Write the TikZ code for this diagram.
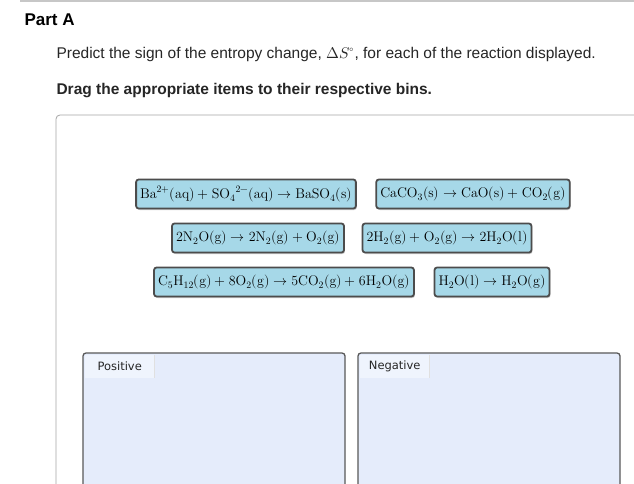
\documentclass[tikz,border=0pt]{standalone}
\usepackage{fontspec}
\setmainfont{Liberation Sans}
\usepackage{unicode-math}
\setmathfont{Latin Modern Math}
\setmathrm{Latin Modern Roman}
\newfontfamily\tabfont{DejaVu Sans}
\usetikzlibrary{shadows}
\begin{document}
\begin{tikzpicture}[x=1pt,y=-1pt,
  chip/.style={draw=black!70,line width=1.8pt,fill=chipblue,rounded corners=2.5pt,inner sep=4pt,minimum height=29pt,font=\fontsize{14}{16}\selectfont,drop shadow={shadow xshift=1pt,shadow yshift=-1.5pt,opacity=.4}},
  bin/.style={draw=black!65,line width=1.3pt,fill=binblue,rounded corners=3pt},
  tab/.style={fill=white!40!binblue,anchor=north west,minimum width=70pt,minimum height=23pt,inner sep=0pt,font=\tabfont\fontsize{11.5}{13}\selectfont,text=black!85}]
\definecolor{chipblue}{HTML}{A6D8E8}
\definecolor{binblue}{HTML}{E5ECFB}
\useasboundingbox (0,0) rectangle (634,484);
\fill[white] (0,0) rectangle (634,484);
\draw[black!22,line width=3pt] (20,1) -- (634,1);
\node[anchor=west,font=\bfseries\fontsize{17}{19}\selectfont] (part) at (21,20) {Part A};
\node[anchor=west,font=\fontsize{15.5}{17}\selectfont,text=black!85] (q) at (53,54) {Predict the sign of the entropy change, $\Delta S^{\circ}$, for each of the reaction displayed.};
\node[anchor=west,font=\bfseries\fontsize{15.5}{17}\selectfont,text=black!85] (d) at (53,91) {Drag the appropriate items to their respective bins.};
\draw[black!35,line width=0.8pt,rounded corners=4pt] (640,115) -- (56,115) -- (56,490);
\node[chip] (r1) at (246,194) {$\mathrm{Ba^{2+}(aq)+SO_4{}^{2-}(aq)\rightarrow BaSO_4(s)}$};
\node[chip] (r2) at (473,194) {$\mathrm{CaCO_3(s)\rightarrow CaO(s)+CO_2(g)}$};
\node[chip] (r3) at (258,238) {$\mathrm{2N_2O(g)\rightarrow 2N_2(g)+O_2(g)}$};
\node[chip] (r4) at (447,238) {$\mathrm{2H_2(g)+O_2(g)\rightarrow 2H_2O(l)}$};
\node[chip] (r5) at (284,282) {$\mathrm{C_5H_{12}(g)+8O_2(g)\rightarrow 5CO_2(g)+6H_2O(g)}$};
\node[chip] (r6) at (492,282) {$\mathrm{H_2O(l)\rightarrow H_2O(g)}$};
\path[bin] (83,490) -- (83,353) -- (345,353) -- (345,490);
\path[bin] (358,490) -- (358,353) -- (620,353) -- (620,490);
\node[tab] (pos) at (84.5,354.5) {Positive};
\node[tab] (neg) at (359.5,354.5) {Negative};
\draw[black!12,line width=1pt] (pos.north east) -- (pos.south east);
\draw[black!12,line width=1pt] (neg.north east) -- (neg.south east);
\end{tikzpicture}
\end{document}
